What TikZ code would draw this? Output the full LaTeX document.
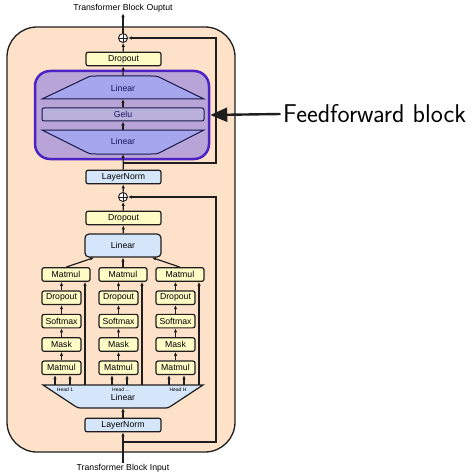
\documentclass[tikz,border=0pt]{standalone}
\usepackage{fontspec}
\setmainfont{Liberation Sans}
\usetikzlibrary{arrows.meta}

\definecolor{peach}{RGB}{253,226,201}
\definecolor{boxyellow}{RGB}{255,252,198}
\definecolor{boxblue}{RGB}{214,230,250}
\definecolor{ffpurple}{RGB}{184,164,214}
\definecolor{ffborder}{RGB}{76,34,196}
\definecolor{fflinear}{RGB}{166,166,238}
\definecolor{ffgelu}{RGB}{186,176,220}
\definecolor{ink}{RGB}{30,30,30}

\begin{document}
\begin{tikzpicture}[x=1pt, y=-1pt,
    blockbox/.style={draw=ink, line width=1.2pt, rounded corners=2pt,
      minimum height=13.5pt, inner sep=0pt, font=\fontsize{8.7}{9}\selectfont},
    ybox/.style={blockbox, fill=boxyellow},
    bbox/.style={blockbox, fill=boxblue},
    arrowline/.style={draw=ink, line width=1.2pt, -{Latex[length=4pt,width=3.5pt]}},
    sumnode/.style={circle, draw=ink, line width=0.9pt, fill=white,
      minimum size=9pt, inner sep=0pt,
      path picture={\draw[ink, line width=0.8pt]
        (path picture bounding box.north) -- (path picture bounding box.south)
        (path picture bounding box.west) -- (path picture bounding box.east);}},
    ffshape/.style={draw=ink!80!blue, line width=1pt},
    txt/.style={font=\fontsize{8.7}{9}\selectfont, inner sep=1pt}
  ]
    \useasboundingbox (0,0) rectangle (474,476);

    % Peach frame round the whole block
    \draw[ink, line width=1.3pt, fill=peach, rounded corners=30pt]
      (7,27) rectangle (235,452);

    % --- Input side ---
    \node[txt] (inp) at (123,468) {Transformer Block Input};
    \node[bbox, minimum width=76pt] (lnA) at (123,425) {LayerNorm};
    \draw[arrowline] (inp) -- (lnA);

    % Heads trapezoid, rounded at the bottom only
    \draw[ink, line width=1.2pt, fill=boxblue]
      (43,385) -- (203,385) -- (172.2,405.3) .. controls (168,408) .. (163,408)
      -- (83,408) .. controls (78,408) .. (73.8,405.3) -- cycle;
    \node[txt] (linH) at (123,397.5) {Linear};
    \node[font=\fontsize{5}{5}\selectfont, inner sep=0pt] (hd1) at (65,389.5) {Head 1};
    \node[font=\fontsize{5}{5}\selectfont, inner sep=0pt] (hd2) at (121,389.5) {Head ...};
    \node[font=\fontsize{5}{5}\selectfont, inner sep=0pt] (hd3) at (178,389.5) {Head H};
    \coordinate (linH-s) at (123,408);
    \draw[arrowline] (lnA) -- (linH-s);

    % First residual
    \coordinate (s1) at (123,442);
    \coordinate (rail2) at (216,197);

    % --- Attention heads ---
    \node[bbox, minimum width=76pt, minimum height=23pt, rounded corners=4pt]
      (linO) at (123,245.5) {Linear};
    \foreach \c [count=\i] in {66,123,180} {
      \node[ybox, minimum width=48pt] (mmT\i) at (\c,274.5) {Matmul};
      \node[ybox, minimum width=39pt] (drp\i) at (\c-4.5,297.8) {Dropout};
      \node[ybox, minimum width=39pt] (smx\i) at (\c-4.5,321.1) {Softmax};
      \node[ybox, minimum width=39pt] (msk\i) at (\c-4.5,344.5) {Mask};
      \node[ybox, minimum width=39pt] (mmB\i) at (\c-4.5,367.8) {Matmul};
      \draw[arrowline] (mmB\i) -- (msk\i);
      \draw[arrowline] (msk\i) -- (smx\i);
      \draw[arrowline] (smx\i) -- (drp\i);
      \draw[arrowline] (drp\i.north) -- (drp\i.north |- mmT\i.south);
      \coordinate (hq\i) at (\c-11,385);
      \coordinate (hk\i) at (\c+4,385);
      \coordinate (hv\i) at (\c+19,385);
      \draw[arrowline] (hq\i) -- (hq\i |- mmB\i.south);
      \draw[arrowline] (hk\i) -- (hk\i |- mmB\i.south);
      \draw[arrowline] (hv\i) -- (hv\i |- mmT\i.south);
    }
    \draw[arrowline] (mmT1.north) -- ([xshift=-29pt]linO.south);
    \draw[arrowline] (mmT2.north) -- (linO.south);
    \draw[arrowline] (mmT3.north) -- ([xshift=29pt]linO.south);

    \node[ybox, minimum width=75pt] (dropB) at (123.5,218) {Dropout};
    \node[sumnode] (plus2) at (123,197) {};
    \draw[arrowline] (linO) -- (dropB);
    \draw[arrowline] (dropB) -- (plus2);
    \draw[arrowline] (s1) -| (rail2) -- (plus2);

    % --- Feedforward part ---
    \node[bbox, minimum width=75pt] (lnB) at (123.5,177) {LayerNorm};
    \draw[arrowline] (plus2) -- (lnB);

    \node[draw=ffborder, line width=2.5pt, fill=ffpurple, rounded corners=15pt,
      minimum width=174pt, minimum height=88pt] (ff) at (122,115) {};

    % Lower linear (narrows downward)
    \draw[ffshape, fill=fflinear]
      (42,130) -- (204,130) -- (162.3,151.3) .. controls (157,154) .. (151,154)
      -- (96,154) .. controls (90,154) .. (84.7,151.3) -- cycle;
    \node[txt, text=ink!70!blue] (linFa) at (123,141) {Linear};
    \coordinate (linFa-s) at (123,154);
    \coordinate (linFa-n) at (123,130);

    \node[ffshape, fill=ffgelu, rounded corners=2pt, minimum width=162pt,
      minimum height=13pt, inner sep=0pt, text=ink!70!blue,
      font=\fontsize{8.7}{9}\selectfont] (gelu) at (123,114.5) {Gelu};

    % Upper linear (widens downward)
    \draw[ffshape, fill=fflinear]
      (42,99) -- (84.7,78.7) .. controls (90,76) .. (96,76)
      -- (151,76) .. controls (157,76) .. (162.3,78.7) -- (204,99) -- cycle;
    \node[txt, text=ink!70!blue] (linFb) at (123,88) {Linear};
    \coordinate (linFb-s) at (123,99);
    \coordinate (linFb-n) at (123,76);

    \coordinate (s2) at (123,163);
    \coordinate (rail1) at (216,38);
    \draw[arrowline] (lnB) -- (linFa-s);
    \draw[arrowline] (linFa-n) -- (gelu);
    \draw[arrowline] (gelu) -- (linFb-s);

    % --- Output side ---
    \node[ybox, minimum width=75pt] (dropC) at (123.5,59) {Dropout};
    \node[sumnode] (plus1) at (123,38) {};
    \node[txt] (out) at (123,8) {Transformer Block Ouptut};
    \draw[arrowline] (linFb-n) -- (dropC);
    \draw[arrowline] (dropC) -- (plus1);
    \draw[arrowline] (s2) -| (rail1) -- (plus1);
    \draw[arrowline] (plus1) -- (out);

    % Pointer to the feedforward block
    \node[font=\sffamily\fontsize{25.7}{30}\selectfont, anchor=west, inner sep=2.5pt]
      (fflab) at (280.5,114) {Feedforward block};
    \draw[ink, line width=2.4pt, -{Triangle[length=17pt,width=14pt]}]
      (fflab.west) -- (ff.east);

\end{tikzpicture}
\end{document}
